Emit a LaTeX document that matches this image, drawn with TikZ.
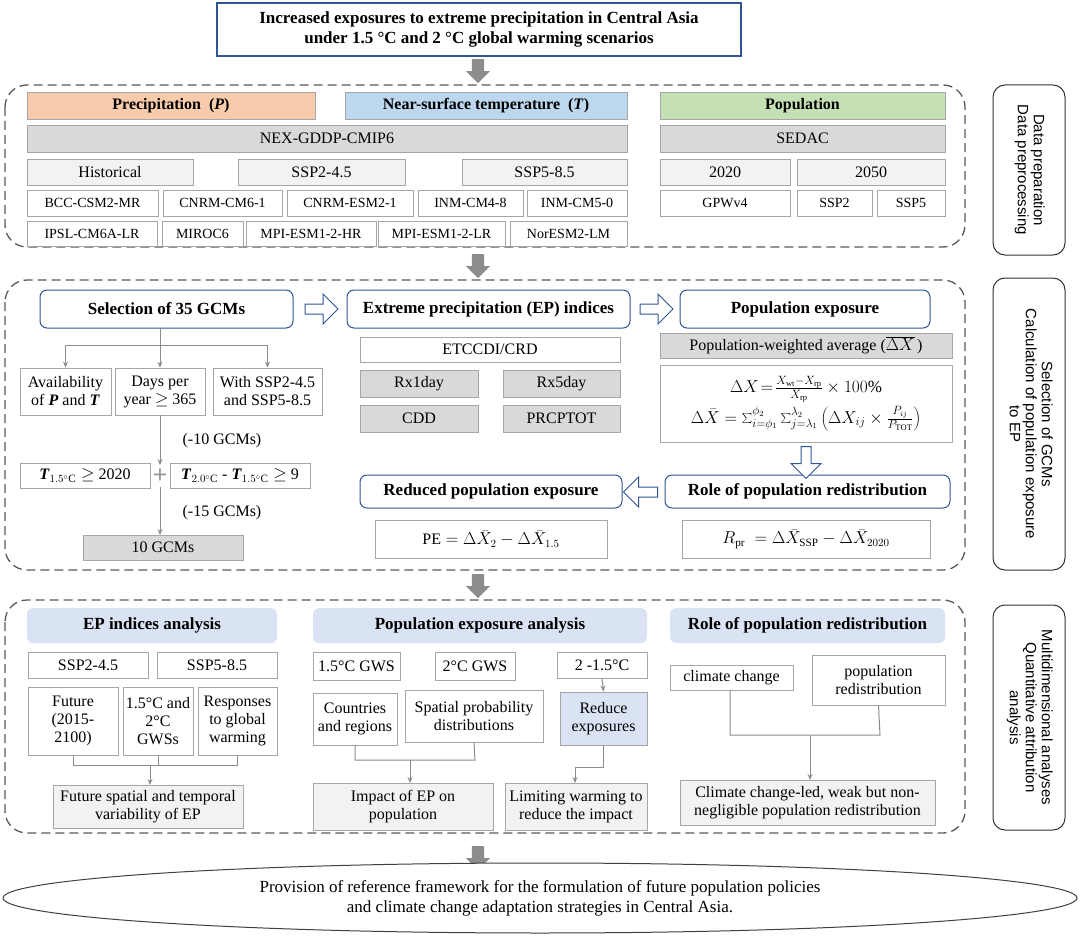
\documentclass[tikz,border=0pt]{standalone}
\usepackage{fontspec}
\setmainfont{Liberation Serif}
\newfontfamily\sidefont{Liberation Sans}
\usetikzlibrary{shapes.arrows,shapes.geometric,arrows.meta}
\definecolor{bord}{HTML}{A6A6A6}
\definecolor{blueb}{HTML}{2F5597}
\definecolor{porange}{HTML}{F8CBAD}
\definecolor{pblue}{HTML}{BDD7EE}
\definecolor{pgreen}{HTML}{C5E0B4}
\definecolor{g1}{HTML}{D9D9D9}
\definecolor{g2}{HTML}{F2F2F2}
\definecolor{hb}{HTML}{DAE3F3}
\definecolor{dash}{HTML}{595959}
\newcommand{\bx}[7]{\node[#2, minimum width={(#5-#3)*1pt}, minimum height={(#6-#4)*1pt}] (#1) at ({(#3+#5)/2},{(#4+#6)/2}) {#7};}
\newcommand{\bT}{\textbf{\textit{T}}}
\tikzset{
 base/.style={draw=bord, line width=0.8pt, inner sep=1pt, align=center, font=\fontsize{16}{18}\selectfont},
 w/.style={base, fill=white},
 gA/.style={base, fill=g1},
 gB/.style={base, fill=g2},
 sm/.style={base, fill=white, font=\fontsize{14}{16}\selectfont},
 hd/.style={base, font=\fontsize{16}{18}\selectfont\bfseries},
 rb/.style={draw=blueb, line width=1pt, rounded corners=7pt, fill=white, align=center, font=\fontsize{17}{19}\selectfont\bfseries},
 lb/.style={fill=hb, rounded corners=6pt, align=center, font=\fontsize{17}{19}\selectfont\bfseries},
 sec/.style={draw=dash, line width=1.3pt, dash pattern=on 9pt off 5pt, rounded corners=22pt},
 side/.style={draw=black!80, line width=1pt, rounded corners=12pt, align=center, font=\sidefont\fontsize{15}{16}\selectfont},
 gar/.style={single arrow, fill=black!45, draw=none, minimum width=24pt, single arrow head extend=4pt, single arrow tip angle=90, shape border rotate=270, minimum height=24pt, inner sep=4pt},
 har/.style={single arrow, fill=white, draw=blueb, line width=1pt, minimum width=30pt, single arrow head extend=5pt, inner sep=2pt},
 ln/.style={draw=black!45, line width=1pt},
 ar/.style={ln, -{Stealth[length=6pt,width=5pt]}},
}
\begin{document}
\begin{tikzpicture}[x=1pt,y=-1pt]
\useasboundingbox (0,0) rectangle (1080,939);
% title
\bx{title}{draw=blueb,line width=1.5pt,fill=white,align=center,font=\fontsize{17}{20}\selectfont\bfseries}{217}{3}{741}{56}{Increased exposures to extreme precipitation in Central Asia\\under 1.5 \textdegree C and 2 \textdegree C global warming scenarios}
% gray arrows
\node[gar] (ga1) at (478,68) {};
\node[gar] (ga2) at (478,263) {};
\node[gar] (ga3) at (478,583) {};
\node[gar] (ga4) at (478,855) {};
% sections
\draw[sec] (5,85) rectangle (965,247);
\draw[sec] (5,280) rectangle (965,570);
\draw[sec] (5,600) rectangle (965,833);
\bx{s1}{side}{993}{85}{1065}{255}{\rotatebox{-90}{\begin{tabular}{c}Data preparation\\Data preprocessing\end{tabular}}}
\bx{s2}{side}{993}{278}{1065}{570}{\rotatebox{-90}{\begin{tabular}{c}Selection of GCMs\\Calculation of population exposure\\to EP\end{tabular}}}
\bx{s3}{side}{993}{605}{1065}{830}{\rotatebox{-90}{\begin{tabular}{c}Multidimensional analyses\\Quantitative attribution\\analysis\end{tabular}}}
% section 1
\bx{p}{hd,fill=porange}{27}{92}{315}{119}{Precipitation \ (\textit{P})}
\bx{t}{hd,fill=pblue}{345}{92}{627}{119}{Near-surface temperature \ (\textit{T})}
\bx{pop}{hd,fill=pgreen}{660}{92}{945}{119}{Population}
\bx{nex}{gA}{27}{125}{627}{152}{NEX-GDDP-CMIP6}
\bx{sed}{gA}{660}{125}{945}{152}{SEDAC}
\bx{his}{gB}{27}{159}{193}{185}{Historical}
\bx{s245}{gB}{238}{159}{405}{185}{SSP2-4.5}
\bx{s585}{gB}{462}{159}{627}{185}{SSP5-8.5}
\bx{y20}{gB}{660}{159}{790}{185}{2020}
\bx{y50}{gB}{797}{159}{945}{185}{2050}
\bx{m1}{sm}{27}{190}{158}{216}{BCC-CSM2-MR}
\bx{m2}{sm}{163}{190}{282}{216}{CNRM-CM6-1}
\bx{m3}{sm}{287}{190}{413}{216}{CNRM-ESM2-1}
\bx{m4}{sm}{418}{190}{523}{216}{INM-CM4-8}
\bx{m5}{sm}{527}{190}{627}{216}{INM-CM5-0}
\bx{gpw}{sm}{660}{190}{790}{216}{GPWv4}
\bx{ssp2}{sm}{797}{190}{872}{216}{SSP2}
\bx{ssp5}{sm}{877}{190}{945}{216}{SSP5}
\bx{m6}{sm}{27}{221}{157}{246}{IPSL-CM6A-LR}
\bx{m7}{sm}{162}{221}{243}{246}{MIROC6}
\bx{m8}{sm}{246}{221}{376}{246}{MPI-ESM1-2-HR}
\bx{m9}{sm}{378}{221}{505}{246}{MPI-ESM1-2-LR}
\bx{m10}{sm}{510}{221}{627}{246}{NorESM2-LM}
% section 2
\bx{sel}{rb}{40}{290}{293}{328}{Selection of 35 GCMs}
\bx{epi}{rb}{347}{290}{630}{328}{Extreme precipitation (EP) indices}
\bx{pe}{rb}{680}{290}{930}{328}{Population exposure}
\node[har,minimum height=33pt] (h1) at (319,309) {};
\node[har,minimum height=33pt] (h2) at (654,309) {};
\bx{av}{w}{20}{368}{111}{415}{Availability\\of \textbf{\textit{P}} and \bT}
\bx{dp}{w}{115}{368}{205}{415}{Days per\\year $\geq$ 365}
\bx{ws}{w}{213}{368}{322}{415}{With SSP2-4.5\\and SSP5-8.5}
\coordinate (j1) at (160,345);
\draw[ln] (sel.south -| j1) -- (j1);
\draw[ar] (j1) -| (av.north);
\draw[ar] (j1) -| (ws.north);
\draw[ar] (j1) -- (dp.north);
\bx{t1}{w}{20}{463}{150}{488}{\bT$_{1.5^\circ\mathrm{C}} \geq$ 2020}
\bx{t2}{w}{170}{463}{310}{488}{\bT$_{2.0^\circ\mathrm{C}}$ - \bT$_{1.5^\circ\mathrm{C}} \geq$ 9}
\node[font=\fontsize{26}{26}\selectfont\bfseries, text=black!40] (plus) at (160,476) {+};
\draw[ar] (dp.south) -- (plus.north);
\node[font=\fontsize{16}{18}\selectfont] (l10) at (222,441) {(-10 GCMs)};
\bx{g10}{gA}{83}{535}{243}{560}{10 GCMs}
\draw[ar] (plus.south) -- (160,535);
\node[font=\fontsize{16}{18}\selectfont] (l15) at (222,513) {(-15 GCMs)};
\bx{etc}{w}{360}{337}{620}{362}{ETCCDI/CRD}
\bx{rx1}{gA}{360}{370}{478}{397}{Rx1day}
\bx{rx5}{gA}{503}{370}{620}{397}{Rx5day}
\bx{cdd}{gA}{360}{405}{478}{432}{CDD}
\bx{prc}{gA}{503}{405}{620}{432}{PRCPTOT}
\bx{pwa}{gA}{660}{333}{952}{358}{Population-weighted average ($\overline{\Delta X}$\,)}
\bx{fm}{w,font=\fontsize{17}{19}\selectfont}{660}{365}{952}{442}{$\Delta X\!=\!\frac{X_{\mathrm{wt}}-X_{\mathrm{rp}}}{X_{\mathrm{rp}}}\times 100\%$\\[3pt]$\Delta\bar{X}=\sum_{i=\phi_1}^{\phi_2}\sum_{j=\lambda_1}^{\lambda_2}\left(\Delta X_{ij}\times\frac{P_{ij}}{P_{\mathrm{TOT}}}\right)$}
\bx{rop}{rb}{665}{475}{950}{508}{Role of population redistribution}
\bx{red}{rb}{360}{475}{622}{508}{Reduced population exposure}
\node[har,minimum height=32pt,shape border rotate=270] (h3) at (806,460) {};
\node[har,minimum height=34pt,shape border rotate=180] (h4) at (643,492) {};
\bx{pef}{w}{375}{520}{607}{558}{$\mathrm{PE}=\Delta\bar{X}_2-\Delta\bar{X}_{1.5}$}
\bx{rpr}{w}{682}{520}{930}{558}{$R_{\mathrm{pr}}\;=\Delta\bar{X}_{\mathrm{SSP}}-\Delta\bar{X}_{2020}$}
% section 3
\bx{h31}{lb}{27}{608}{277}{643}{EP indices analysis}
\bx{h32}{lb}{313}{608}{647}{643}{Population exposure analysis}
\bx{h33}{lb}{670}{608}{945}{643}{Role of population redistribution}
\bx{a1}{w}{28}{652}{148}{678}{SSP2-4.5}
\bx{a2}{w}{157}{652}{277}{678}{SSP5-8.5}
\bx{b1}{w}{313}{652}{400}{680}{1.5\textdegree C GWS}
\bx{b2}{w}{435}{652}{515}{680}{2\textdegree C GWS}
\bx{b3}{w}{557}{652}{647}{678}{2 -1.5\textdegree C}
\bx{f1}{w}{28}{687}{118}{755}{Future\\(2015-\\2100)}
\bx{f2}{w}{123}{687}{193}{755}{1.5\textdegree C and\\2\textdegree C\\GWSs}
\bx{f3}{w}{198}{687}{277}{755}{Responses\\to global\\warming}
\bx{c1}{w}{313}{693}{397}{745}{Countries\\and regions}
\bx{c2}{w}{405}{690}{543}{742}{Spatial probability\\distributions}
\bx{c3}{w,fill=hb}{560}{692}{647}{745}{Reduce\\exposures}
\bx{d1}{w}{670}{665}{793}{690}{climate change}
\bx{d2}{w}{812}{655}{945}{705}{population\\redistribution}
\bx{r1}{gB}{53}{785}{243}{828}{Future spatial and temporal\\variability of EP}
\bx{r2}{gB}{313}{783}{493}{830}{Impact of EP on\\population}
\bx{r3}{gB}{505}{783}{647}{830}{Limiting warming to\\reduce the impact}
\bx{r4}{gB}{680}{780}{935}{825}{Climate change-led, weak but non-\\negligible population redistribution}
\draw[ln] (f1.south) -- ++(0,10) -| (f3.south);
\draw[ln] (f2.south) -- ++(0,10);
\draw[ar] (150,765) -- (150,785);
\draw[ln] (c1.south) |- (475,760) -- (c2.south);
\draw[ar] (410,760) -- (410,783);
\draw[ar] (b3.south) -- (c3.north);
\draw[ln] (c3.south) |- (575,767);
\draw[ar] (575,767) -- (575,783);
\draw[ln] (730,690) |- (880,735) -- (d2.south);
\draw[ar] (810,735) -- (810,780);
% ellipse
\node[ellipse, draw=black!75, line width=1pt, fill=white, minimum width=1074pt, minimum height=70pt, align=center, font=\fontsize{17}{20}\selectfont] (el) at (540,898) {Provision of reference framework for the formulation of future population policies\\and climate change adaptation strategies in Central Asia.};
\end{tikzpicture}
\end{document}
